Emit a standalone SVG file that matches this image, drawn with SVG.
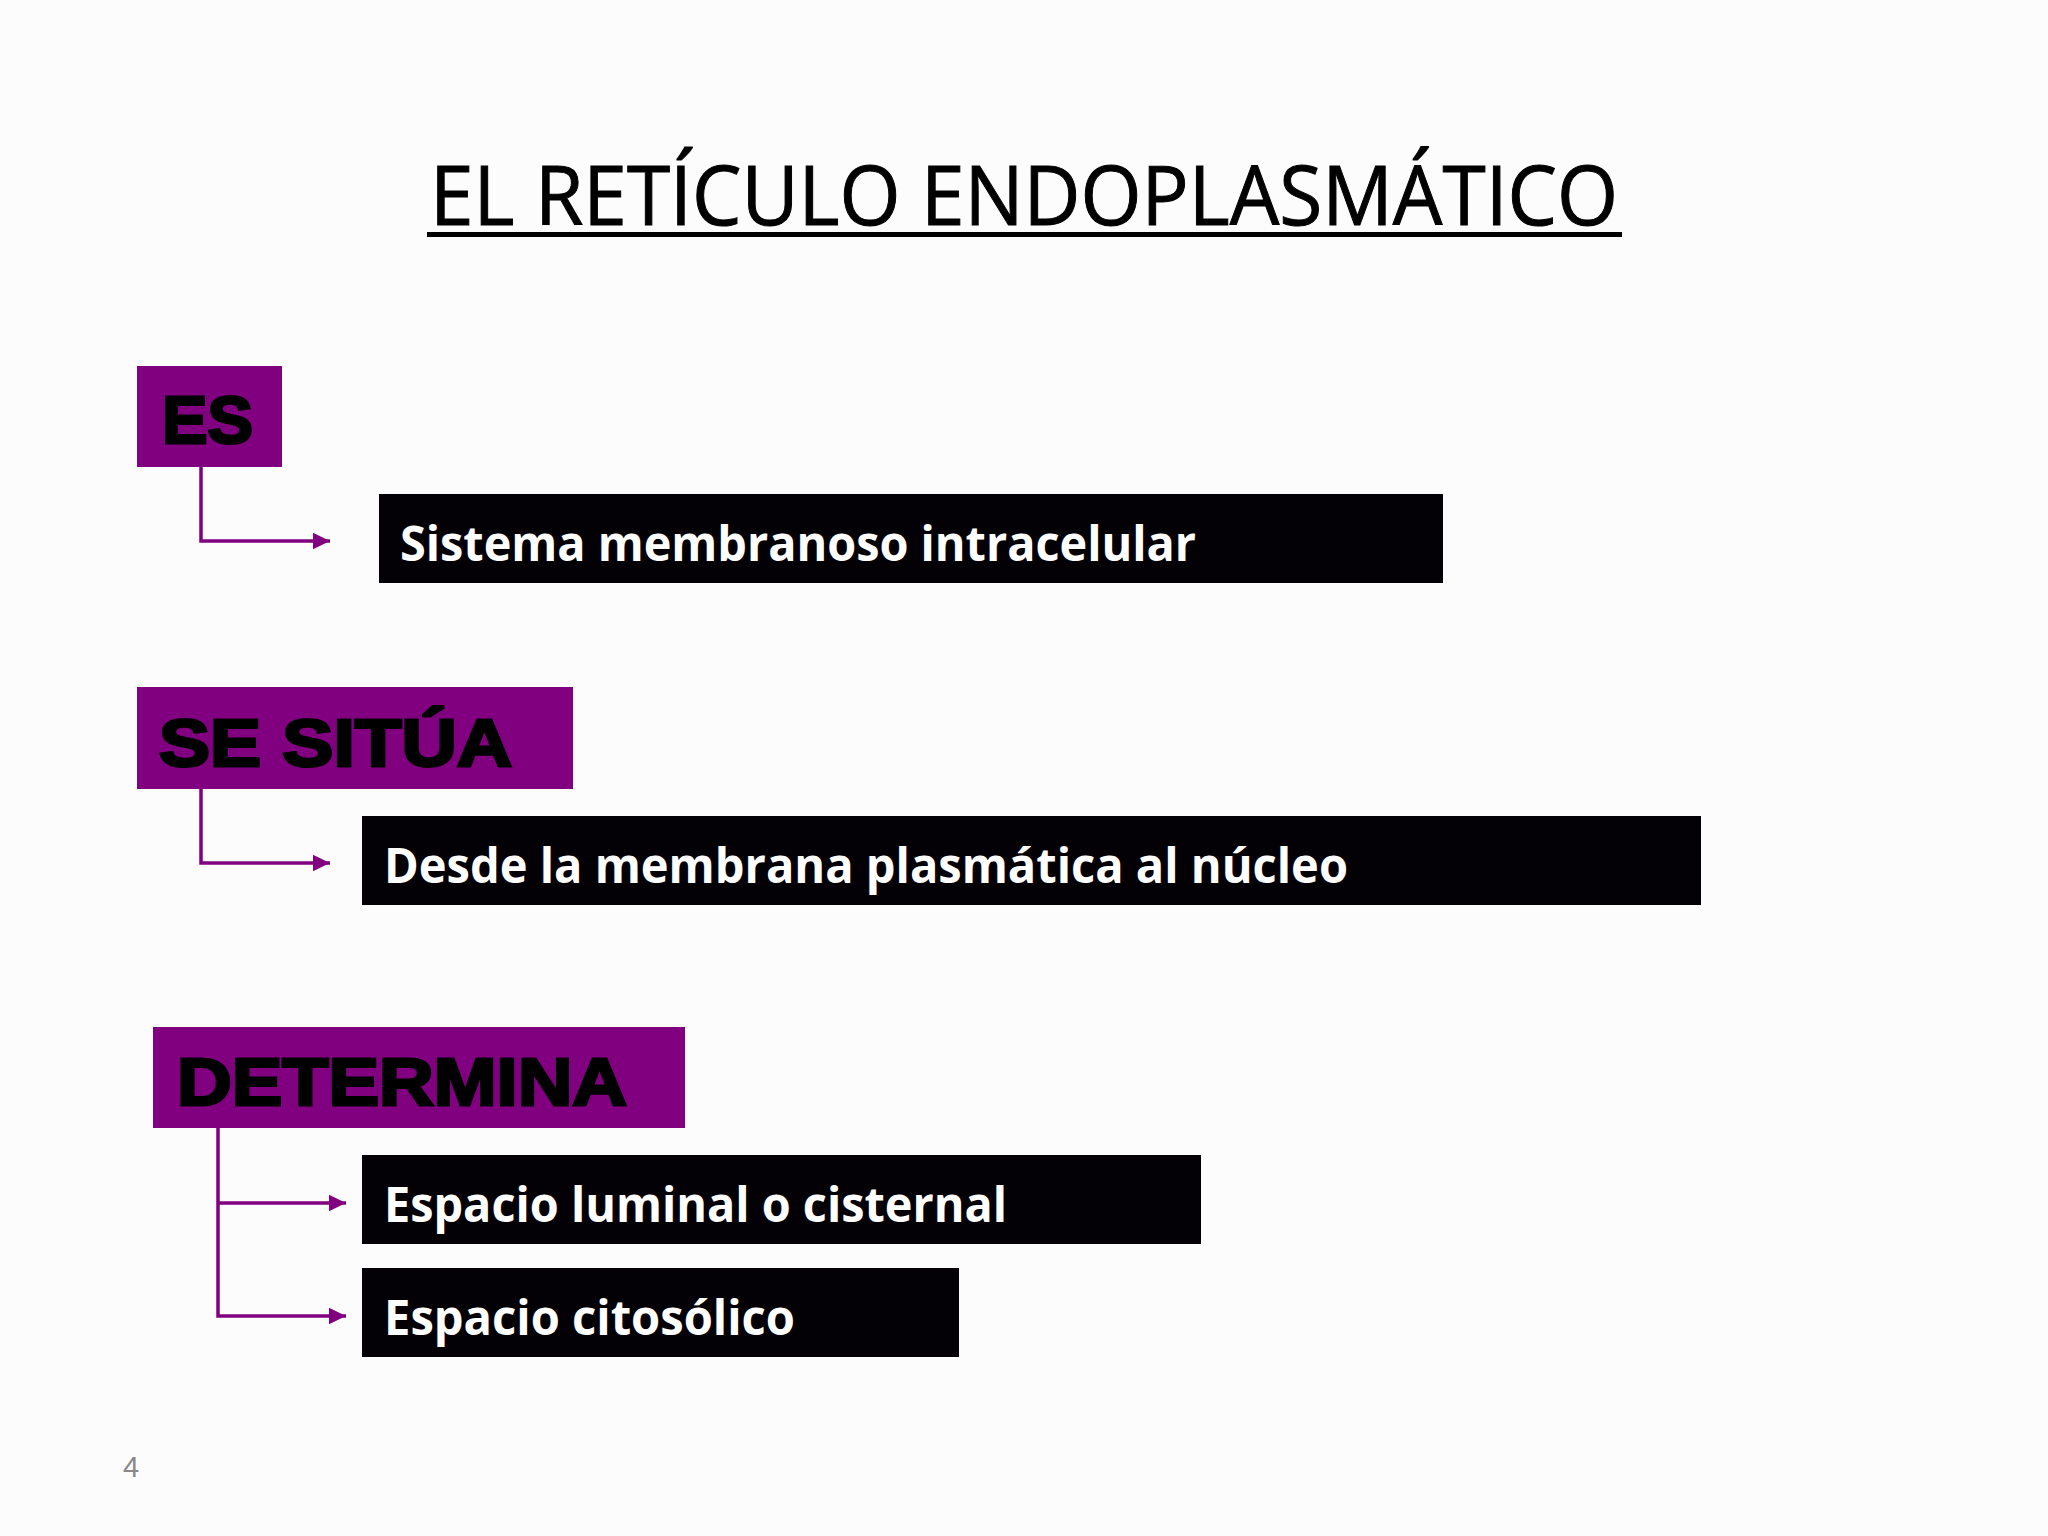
<svg xmlns="http://www.w3.org/2000/svg" width="2048" height="1536" viewBox="0 0 2048 1536">
<style>
.title{font-family:"Open Sans","Liberation Sans",sans-serif;font-size:82px;fill:#000;stroke:#000;stroke-width:1px}
.hdr rect{fill:#800080}
.hdr text{font-family:"Liberation Sans",Arial,sans-serif;font-weight:bold;font-size:67px;fill:#000;stroke:#000;stroke-width:3px}
.item rect{fill:#030006}
.item text{font-family:"Open Sans","Noto Sans",sans-serif;font-weight:bold;font-size:48px;fill:#fff}
.conn{fill:none;stroke:#800080;stroke-width:3.5}
.pg{font-family:"Liberation Sans",sans-serif;font-size:29px;fill:#888}
</style>
<defs>
<marker id="arr" markerWidth="6" markerHeight="6" refX="5" refY="3" orient="auto" markerUnits="strokeWidth">
<path d="M0,0.6 L5,3 L0,5.4 Z" fill="#800080"/>
</marker>
</defs>
<rect x="0" y="0" width="2048" height="1536" fill="#fdfcfd"/>
<g id="title">
<text class="title" x="430" y="225" textLength="1188" lengthAdjust="spacingAndGlyphs">EL RETÍCULO ENDOPLASMÁTICO</text>
<rect x="427" y="232" width="1195" height="5" fill="#000"/>
</g>
<g id="connectors">
<path class="conn" d="M201,466 V541 H330" marker-end="url(#arr)"/>
<path class="conn" d="M201,789 V863 H330" marker-end="url(#arr)"/>
<path class="conn" d="M218,1128 V1316 H346" marker-end="url(#arr)"/>
<path class="conn" d="M218,1203 H346" marker-end="url(#arr)"/>
</g>
<g id="n-es" class="hdr">
<rect x="137" y="366" width="145" height="101"/>
<text x="162" y="443" textLength="91" lengthAdjust="spacingAndGlyphs">ES</text>
</g>
<g id="n-sistema" class="item">
<rect x="379" y="494" width="1064" height="89"/>
<text x="400" y="561" textLength="796" lengthAdjust="spacingAndGlyphs">Sistema membranoso intracelular</text>
</g>
<g id="n-sesitua" class="hdr">
<rect x="137" y="687" width="436" height="102"/>
<text x="159" y="766" textLength="353" lengthAdjust="spacingAndGlyphs">SE SITÚA</text>
</g>
<g id="n-desde" class="item">
<rect x="362" y="816" width="1339" height="89"/>
<text x="384" y="883" textLength="964" lengthAdjust="spacingAndGlyphs">Desde la membrana plasmática al núcleo</text>
</g>
<g id="n-determina" class="hdr">
<rect x="153" y="1027" width="532" height="101"/>
<text x="177" y="1105" textLength="450" lengthAdjust="spacingAndGlyphs">DETERMINA</text>
</g>
<g id="n-luminal" class="item">
<rect x="362" y="1155" width="839" height="89"/>
<text x="384" y="1222" textLength="623" lengthAdjust="spacingAndGlyphs">Espacio luminal o cisternal</text>
</g>
<g id="n-citosolico" class="item">
<rect x="362" y="1268" width="597" height="89"/>
<text x="384" y="1335" textLength="411" lengthAdjust="spacingAndGlyphs">Espacio citosólico</text>
</g>
<text class="pg" x="123" y="1477">4</text>
</svg>
